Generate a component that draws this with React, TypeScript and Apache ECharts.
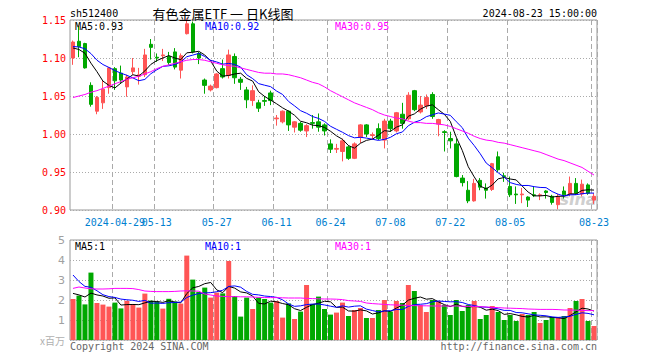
import React, { useEffect, useRef } from 'react';
import * as echarts from 'echarts';

const dates = [
  '2024-04-18','2024-04-19','2024-04-22','2024-04-23','2024-04-24','2024-04-25','2024-04-26','2024-04-29','2024-04-30',
  '2024-05-06','2024-05-07','2024-05-08','2024-05-09','2024-05-10','2024-05-13','2024-05-14','2024-05-15','2024-05-16','2024-05-17',
  '2024-05-20','2024-05-21','2024-05-22','2024-05-23','2024-05-24','2024-05-27','2024-05-28','2024-05-29','2024-05-30','2024-05-31',
  '2024-06-03','2024-06-04','2024-06-05','2024-06-06','2024-06-07','2024-06-11','2024-06-12','2024-06-13','2024-06-14',
  '2024-06-17','2024-06-18','2024-06-19','2024-06-20','2024-06-21','2024-06-24','2024-06-25','2024-06-26','2024-06-27','2024-06-28',
  '2024-07-01','2024-07-02','2024-07-03','2024-07-04','2024-07-05','2024-07-08','2024-07-09','2024-07-10','2024-07-11','2024-07-12',
  '2024-07-15','2024-07-16','2024-07-17','2024-07-18','2024-07-19','2024-07-22','2024-07-23','2024-07-24','2024-07-25','2024-07-26',
  '2024-07-29','2024-07-30','2024-07-31','2024-08-01','2024-08-02','2024-08-05','2024-08-06','2024-08-07','2024-08-08','2024-08-09',
  '2024-08-12','2024-08-13','2024-08-14','2024-08-15','2024-08-16','2024-08-19','2024-08-20','2024-08-21','2024-08-22','2024-08-23',
];

const tickDates = ['2024-04-29','2024-05-13','2024-05-27','2024-06-11','2024-06-24','2024-07-08','2024-07-22','2024-08-05','2024-08-23'];

const opens = [
  1.100,1.122,1.119,1.064,1.030,1.041,1.061,1.086,1.080,1.062,
  1.082,1.076,1.078,1.118,1.101,1.103,1.102,1.108,1.084,1.132,
  1.145,1.106,1.071,1.058,1.061,1.086,1.077,1.102,1.072,1.058,
  1.044,1.041,1.044,1.054,1.020,1.016,1.030,1.009,1.014,1.004,
  1.015,1.016,1.012,0.987,0.980,0.977,0.983,0.968,0.996,1.012,
  0.998,1.007,0.992,1.017,1.004,1.026,1.020,1.057,1.029,1.037,
  1.052,1.013,1.003,0.994,0.987,0.942,0.926,0.912,0.939,0.929,
  0.927,0.970,0.945,0.931,0.921,0.920,0.917,0.920,0.919,0.925,
  0.918,0.907,0.925,0.921,0.935,0.921,0.933,0.913,
];
const closes = [
  1.121,1.115,1.087,1.039,1.048,1.059,1.087,1.070,1.071,1.075,
  1.087,1.078,1.104,1.114,1.100,1.104,1.094,1.088,1.103,1.145,
  1.108,1.100,1.064,1.063,1.079,1.075,1.104,1.074,1.068,1.045,
  1.057,1.034,1.043,1.044,1.021,1.030,1.012,1.016,1.005,1.011,
  1.014,1.009,1.004,0.980,0.981,0.991,0.968,0.987,1.012,1.000,
  0.999,0.994,1.017,1.007,1.028,1.014,1.051,1.032,1.038,1.048,
  1.023,1.019,1.002,0.991,0.944,0.936,0.912,0.935,0.930,0.926,
  0.961,0.953,0.944,0.920,0.920,0.921,0.913,0.919,0.920,0.923,
  0.910,0.918,0.920,0.935,0.922,0.934,0.922,0.918,
];
const lows = [
  1.091,1.101,1.086,1.036,1.026,1.033,1.053,1.058,1.066,1.049,
  1.078,1.065,1.075,1.098,1.095,1.096,1.091,1.085,1.073,1.131,
  1.106,1.092,1.053,1.056,1.060,1.073,1.073,1.066,1.058,1.034,
  1.037,1.029,1.037,1.038,1.011,1.014,1.004,1.002,1.003,0.996,
  1.007,1.003,0.998,0.975,0.975,0.964,0.966,0.967,0.988,0.996,
  0.993,0.992,0.981,1.003,1.002,1.007,1.018,1.030,1.027,1.033,
  1.020,0.997,0.977,0.981,0.943,0.931,0.909,0.911,0.926,0.915,
  0.925,0.950,0.937,0.917,0.908,0.909,0.904,0.917,0.913,0.915,
  0.907,0.901,0.915,0.918,0.920,0.918,0.920,0.908,
];
const highs = [
  1.123,1.142,1.120,1.068,1.050,1.070,1.088,1.088,1.090,1.078,
  1.100,1.087,1.112,1.125,1.106,1.112,1.108,1.113,1.106,1.152,
  1.148,1.108,1.073,1.065,1.080,1.098,1.111,1.106,1.075,1.062,
  1.064,1.045,1.050,1.057,1.025,1.031,1.031,1.017,1.016,1.013,
  1.025,1.027,1.014,0.993,0.987,0.994,0.985,0.989,1.013,1.013,
  1.002,1.014,1.020,1.020,1.029,1.041,1.055,1.058,1.050,1.052,
  1.055,1.020,1.005,1.003,0.994,0.946,0.938,0.941,0.942,0.935,
  0.962,0.977,0.949,0.944,0.931,0.929,0.918,0.931,0.922,0.926,
  0.920,0.921,0.931,0.944,0.942,0.940,0.935,0.922,
];
// volume, millions
const volumes = [
  2.05,2.22,1.78,3.37,1.85,1.77,1.67,1.87,1.58,1.96,
  1.80,1.62,2.32,1.97,1.92,1.57,2.06,1.93,1.82,4.22,
  3.02,2.40,2.62,2.12,2.37,2.33,3.95,2.20,1.17,2.12,
  1.55,2.12,2.05,1.87,1.95,1.12,1.83,1.05,1.42,2.75,
  1.80,2.17,1.55,1.27,1.37,1.87,1.20,1.50,1.60,1.10,
  1.10,1.50,2.00,1.42,1.95,1.85,2.75,2.45,1.75,1.40,
  2.00,1.95,1.75,1.25,2.00,1.45,1.75,1.95,1.05,1.25,
  1.70,1.40,1.00,1.25,0.95,1.30,1.25,1.40,0.85,1.00,
  1.15,1.15,1.20,1.60,1.95,2.05,0.95,0.70,
];
const priorCloses = [1.121,1.111,1.102,1.135,1.116,1.125,1.112,1.104,1.104];
const priorVolumes = [5.5,4.2,3.8,3.6,3.75,2.6,2.3,2.4,2.3];
// 30-day averages
const ma30Price = [
  1.048,1.050,1.052,1.055,1.057,1.060,1.063,1.066,1.069,1.072,
  1.074,1.076,1.079,1.082,1.086,1.089,1.091,1.093,1.095,1.097,
  1.098,1.098,1.097,1.095,1.093,1.091,1.090,1.089,1.087,1.085,
  1.083,1.081,1.080,1.080,1.079,1.079,1.078,1.076,1.074,1.071,
  1.068,1.066,1.062,1.057,1.053,1.049,1.045,1.041,1.038,1.035,
  1.032,1.028,1.025,1.023,1.021,1.020,1.017,1.015,1.015,1.014,
  1.014,1.013,1.012,1.010,1.007,1.004,1.001,0.997,0.994,0.992,
  0.991,0.989,0.988,0.986,0.984,0.982,0.980,0.978,0.976,0.973,
  0.970,0.967,0.965,0.962,0.959,0.956,0.951,0.946,
];
const ma30Volume = [
  2.58,2.65,2.60,2.56,2.55,2.55,2.56,2.58,2.58,2.58,
  2.57,2.52,2.45,2.43,2.42,2.42,2.42,2.43,2.45,2.46,
  2.45,2.44,2.30,2.25,2.20,2.18,2.17,2.17,2.16,2.16,
  2.15,2.13,2.12,2.12,2.12,2.11,2.10,2.10,2.10,2.08,
  2.07,2.06,2.05,2.05,2.04,2.02,1.97,1.95,1.93,1.85,
  1.82,1.80,1.78,1.76,1.75,1.74,1.72,1.72,1.71,1.71,
  1.70,1.70,1.70,1.70,1.70,1.69,1.68,1.68,1.67,1.65,
  1.63,1.62,1.60,1.59,1.58,1.57,1.55,1.54,1.53,1.53,
  1.53,1.52,1.50,1.50,1.49,1.48,1.47,1.47,
];

const UP = '#ff5555';
const DOWN = '#00a800';
const GRID_GRAY = '#aaaaaa';
const MONO = '"DejaVu Sans Mono", "Liberation Mono", monospace';

function movingAverage(values: number[], prior: number[], n: number): number[] {
  const all = prior.concat(values);
  return values.map((_, i) => {
    const end = prior.length + i;
    let s = 0;
    for (let k = end - n + 1; k <= end; k++) s += all[k];
    return +(s / n).toFixed(4);
  });
}

export default function App() {
  const ref = useRef<HTMLDivElement>(null);

  useEffect(() => {
    if (!ref.current) return;
    const chart = echarts.init(ref.current, undefined, { renderer: 'svg' });

    const ma5 = movingAverage(closes, priorCloses, 5);
    const ma10 = movingAverage(closes, priorCloses, 10);
    const vma5 = movingAverage(volumes, priorVolumes, 5);
    const vma10 = movingAverage(volumes, priorVolumes, 10);
    const last = dates.length - 1;

    const candles = dates.map((_, i) => [opens[i], closes[i], lows[i], highs[i]]);
    const volBars = volumes.map((v, i) => ({
      value: v,
      itemStyle: { color: closes[i] >= opens[i] ? UP : DOWN },
    }));

    const isTick = (idx: number) => tickDates.indexOf(dates[idx]) >= 0;
    const isFirstTick = (idx: number) => dates[idx] === tickDates[0];
    const isLaterTick = (idx: number) => isTick(idx) && !isFirstTick(idx);

    const xCommon = {
      type: 'category',
      data: dates,
      position: 'bottom',
      offset: 0,
      boundaryGap: true,
      axisLine: { show: false },
      axisTick: { show: false },
      splitLine: {
        show: true,
        interval: (idx: number) => isTick(idx),
        lineStyle: { color: GRID_GRAY, type: [5, 3], width: 1 },
      },
    };

    const dateLabel = {
      color: '#0080d0',
      fontFamily: MONO,
      fontSize: 10,
      margin: 7,
      hideOverlap: false,
    };

    const lineSeries = (data: number[], color: string, xi: number) => ({
      type: 'line',
      data,
      xAxisIndex: xi,
      yAxisIndex: xi,
      symbol: 'none',
      showSymbol: false,
      smooth: false,
      z: 4,
      lineStyle: { color, width: 1 },
      itemStyle: { color },
      emphasis: { disabled: true },
      silent: true,
    });

    const txt = (text: string, x: number, y: number, fill: string, font: string, align = 'left', z = 10) => ({
      type: 'text',
      x,
      y,
      z,
      silent: true,
      style: { text, fill, font, textAlign: align, textVerticalAlign: 'middle' },
    });

    chart.setOption({
      animation: false,
      backgroundColor: '#ffffff',
      grid: [
        { left: 70, top: 20, width: 527, height: 190, show: true, borderColor: '#999999', borderWidth: 1, backgroundColor: 'transparent' },
        { left: 70, top: 240, width: 527, height: 100, show: true, borderColor: '#999999', borderWidth: 1, backgroundColor: 'transparent' },
      ],
      xAxis: [
        {
          ...xCommon,
          gridIndex: 0,
          axisLabel: {
            ...dateLabel,
            show: true,
            interval: (idx: number) => isLaterTick(idx),
            formatter: (v: string) => v.slice(5),
          },
        },
        {
          ...xCommon,
          gridIndex: 1,
          axisLabel: { show: false },
        },
        {
          // carries only the first, full-date label (it overlaps the next one, as in the original)
          type: 'category',
          data: dates,
          position: 'bottom',
          offset: 0,
          boundaryGap: true,
          gridIndex: 0,
          axisLine: { show: false },
          axisTick: { show: false },
          splitLine: { show: false },
          axisLabel: {
            ...dateLabel,
            show: true,
            interval: (idx: number) => isFirstTick(idx),
            formatter: (v: string) => v,
          },
        },
      ],
      yAxis: [
        {
          type: 'value',
          gridIndex: 0,
          min: 0.9,
          max: 1.15,
          interval: 0.05,
          axisLine: { show: false },
          axisTick: { show: false },
          axisLabel: {
            color: '#ff0000',
            fontFamily: MONO,
            fontSize: 10,
            margin: 4,
            formatter: (v: number) => v.toFixed(2),
          },
          splitLine: { show: true, lineStyle: { color: GRID_GRAY, type: [1, 2], width: 1 } },
        },
        {
          type: 'value',
          gridIndex: 1,
          min: 0,
          max: 5,
          interval: 1,
          axisLine: { show: false },
          axisTick: { show: false },
          axisLabel: {
            color: '#a0a0a0',
            fontFamily: '"DejaVu Sans", sans-serif',
            fontSize: 11,
            margin: 5,
            formatter: (v: number) => (v === 0 ? '' : String(v)),
          },
          splitLine: { show: true, lineStyle: { color: GRID_GRAY, type: [1, 2], width: 1 } },
        },
      ],
      series: [
        {
          type: 'candlestick',
          xAxisIndex: 0,
          yAxisIndex: 0,
          data: candles,
          barWidth: 4,
          z: 3,
          silent: true,
          itemStyle: { color: UP, color0: DOWN, borderColor: UP, borderColor0: DOWN, borderWidth: 1 },
        },
        lineSeries(ma5, '#000000', 0),
        lineSeries(ma10, '#0000ff', 0),
        lineSeries(ma30Price, '#ff00ff', 0),
        {
          type: 'bar',
          xAxisIndex: 1,
          yAxisIndex: 1,
          data: volBars,
          barWidth: 5,
          z: 3,
          silent: true,
        },
        lineSeries(vma5, '#000000', 1),
        lineSeries(vma10, '#0000ff', 1),
        lineSeries(ma30Volume, '#ff00ff', 1),
      ],
      graphic: [
        {
          type: 'text',
          x: 578,
          y: 199,
          z: 1,
          silent: true,
          style: {
            text: 'sina',
            fill: '#cfcfcf',
            font: 'italic bold 16px "DejaVu Sans", sans-serif',
            textAlign: 'center',
            textVerticalAlign: 'middle',
          },
        },
        txt('sh512400', 70, 13, '#000000', `10px ${MONO}`),
        txt('有色金属ETF 一 日K线图', 223, 13, '#000000', '13px "Noto Sans CJK SC", sans-serif', 'center'),
        txt('2024-08-23 15:00:00', 597, 13, '#000000', `10px ${MONO}`, 'right'),
        txt(`MA5:${ma5[last].toFixed(2)}`, 75, 26.5, '#000000', `10px ${MONO}`),
        txt(`MA10:${ma10[last].toFixed(2)}`, 205, 26.5, '#0000ff', `10px ${MONO}`),
        txt(`MA30:${ma30Price[last].toFixed(2)}`, 335, 26.5, '#ff00ff', `10px ${MONO}`),
        txt(`MA5:${Math.round(vma5[last])}`, 75, 246.5, '#000000', `10px ${MONO}`),
        txt(`MA10:${Math.round(vma10[last])}`, 205, 246.5, '#0000ff', `10px ${MONO}`),
        txt(`MA30:${Math.round(ma30Volume[last])}`, 335, 246.5, '#ff00ff', `10px ${MONO}`),
        txt('x百万', 65, 340, '#b0b0b0', '10px "Noto Sans CJK SC", sans-serif', 'right'),
        txt('Copyright 2024 SINA.COM', 70, 346, '#666666', `10px ${MONO}`),
        txt('http://finance.sina.com.cn', 597, 346, '#666666', `10px ${MONO}`, 'right'),
      ],
    });

    return () => {
      chart.dispose();
    };
  }, []);

  return (
    <div
      ref={ref}
      style={{ position: 'fixed', left: 0, top: 0, width: 660, height: 360, background: '#fff' }}
    />
  );
}
